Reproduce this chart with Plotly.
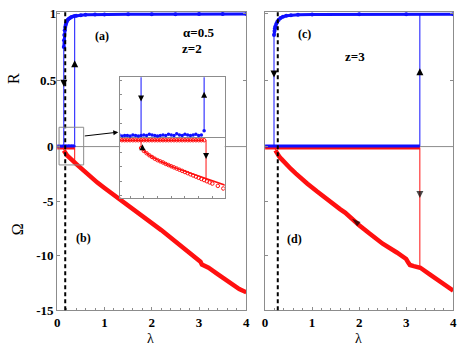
import plotly.graph_objects as go

W, H = 474, 353

# ---------------- data ----------------
# panel (a)/(b): z = 2
lamA_low = [0.00, 0.01, 0.02, 0.03, 0.04, 0.05, 0.06, 0.07, 0.08, 0.09, 0.10, 0.11, 0.12,
            0.13, 0.14, 0.15, 0.16, 0.17, 0.18, 0.19, 0.20, 0.21, 0.22, 0.23, 0.24, 0.25,
            0.26, 0.27, 0.28, 0.29, 0.30, 0.31, 0.32, 0.33, 0.34, 0.35, 0.36, 0.37]
RA_low = [0.004, 0.003, 0.005, 0.004, 0.003, 0.004, 0.005, 0.003, 0.004, 0.004, 0.003, 0.005,
          0.004, 0.003, 0.004, 0.005, 0.004, 0.006, 0.005, 0.004, 0.003, 0.004, 0.005, 0.004,
          0.006, 0.005, 0.004, 0.007, 0.005, 0.004, 0.006, 0.005, 0.004, 0.005, 0.006, 0.004,
          0.005, 0.012]
OmA_low = [-0.08, -0.08, -0.08, -0.08, -0.08, -0.08, -0.08, -0.08, -0.08, -0.08, -0.08, -0.08,
           -0.08, -0.08, -0.08, -0.08, -0.08, -0.08, -0.08, -0.08, -0.08, -0.08, -0.08, -0.08,
           -0.08, -0.08, -0.08, -0.08, -0.08, -0.08, -0.08, -0.08, -0.08, -0.08, -0.08, -0.08,
           -0.08, -0.08]
lamA_up = [0.14, 0.145, 0.15, 0.16, 0.17, 0.18, 0.19, 0.20, 0.22, 0.24, 0.27, 0.30, 0.35,
           0.40, 0.50, 0.60, 0.80, 1.00, 1.50, 2.00, 2.50, 3.00, 3.50, 4.00]
RA_up = [0.75, 0.80, 0.84, 0.875, 0.90, 0.915, 0.93, 0.94, 0.952, 0.96, 0.968, 0.974, 0.98,
         0.984, 0.988, 0.991, 0.993, 0.994, 0.995, 0.996, 0.996, 0.997, 0.997, 0.997]
lamA_om = [0.14, 0.15, 0.16, 0.17, 0.18, 0.19, 0.20, 0.21, 0.22, 0.23, 0.24, 0.25, 0.26, 0.27,
           0.28, 0.29, 0.30, 0.31, 0.32, 0.33, 0.34, 0.35, 0.36, 0.37, 0.38, 0.39, 0.40, 0.42,
           0.44, 0.46, 0.50, 0.60, 0.73, 0.85, 1.00, 1.20, 1.35, 1.45, 1.55, 1.65, 1.80, 2.00,
           2.20, 2.50, 2.80, 2.95, 3.00, 3.03, 3.06, 3.12, 3.20, 3.40, 3.60, 3.85, 4.00]
OmA = [-0.35, -0.45, -0.53, -0.60, -0.66, -0.72, -0.77, -0.81, -0.85, -0.90, -0.94, -0.98,
       -1.02, -1.06, -1.10, -1.14, -1.18, -1.22, -1.26, -1.30, -1.34, -1.38, -1.42, -1.46,
       -1.50, -1.54, -1.58, -1.66, -1.75, -1.84, -2.00, -2.40, -2.90, -3.30, -3.80, -4.45,
       -4.90, -5.25, -5.55, -5.80, -6.30, -7.00, -7.65, -8.70, -9.70, -10.25, -10.40, -10.55,
       -10.80, -10.90, -11.10, -11.70, -12.30, -13.05, -13.35]
lamA_c = 0.17          # dashed critical line
lamA_back = 0.14       # backward jump
lamA_fwd = 0.37        # forward jump

# panel (c)/(d): z = 3
lamC_low = [0.00, 0.50, 1.00, 1.50, 2.00, 2.50, 3.00, 3.29]
RC_low = [0.004, 0.004, 0.004, 0.004, 0.004, 0.004, 0.004, 0.004]
OmC_low = [-0.08, -0.08, -0.08, -0.08, -0.08, -0.08, -0.08, -0.08]
lamC_up = [0.19, 0.20, 0.21, 0.22, 0.24, 0.26, 0.29, 0.33, 0.38, 0.45, 0.55, 0.70, 1.00,
           2.00, 3.00, 4.00]
RC_up = [0.84, 0.87, 0.89, 0.905, 0.925, 0.94, 0.955, 0.967, 0.977, 0.984, 0.988, 0.991,
         0.993, 0.995, 0.996, 0.996]
lamC_om = [0.22, 0.25, 0.30, 0.35, 0.40, 0.47, 0.55, 0.65, 0.75, 0.90, 1.10, 1.30, 1.48,
           1.60, 1.70, 1.83, 2.00, 2.20, 2.50, 2.80, 2.95, 3.00, 3.04, 3.08, 3.16, 3.30,
           3.50, 3.75, 4.00]
OmC = [-0.35, -0.60, -0.90, -1.15, -1.40, -1.70, -2.05, -2.45, -2.85, -3.40, -4.10, -4.80,
       -5.40, -5.75, -6.05, -6.60, -7.20, -7.90, -8.90, -9.70, -10.10, -10.30, -10.60,
       -10.85, -10.95, -11.10, -11.70, -12.50, -13.20]
lamC_c = 0.27
lamC_back_R = 0.19
lamC_back_Om = 0.22
lamC_fwd = 3.29

# arrow markers (lambda, value)
arrA_R = dict(lam=[0.37, 0.14], val=[0.65, 0.45], sym=["arrow-up", "arrow-down"])
arrC_R = dict(lam=[0.19, 3.29], val=[0.52, 0.59], sym=["arrow-down", "arrow-up"])
arrC_Om = dict(lam=[3.29, 1.85], val=[-4.7, -6.62], sym=["arrow-down", "arrow"], ang=[0, -52],
               size=[7, 9])
arrI_R = dict(lam=[0.14, 0.37], val=[0.06, 0.076], sym=["arrow-down", "arrow-up"])
arrI_Om = dict(lam=[0.145, 0.377], val=[-0.22, -0.73], sym=["arrow-up", "arrow-down"])

x_ticks = [0, 1, 2, 3, 4]
x_ticktext = ["0", "1", "2", "3", "4"]
om_ticks = [-15, -10, -5, 0]
om_ticktext = ["-15", "-10", "-5", "0"]
r_ticks = [0.5, 1]
r_ticktext = ["0.5", "1"]

BLUE = "#1010ff"
RED = "#ff1010"
GRAY = "#8c8c8c"
SERIF = "Liberation Serif"

# ---------------- layout geometry ----------------
xL = [55 / W, 247 / W]
xR = [266 / W, 457 / W]
yM = [1 - 317 / H, 1 - 7 / H]
xI = [119 / W, 225 / W]
yI = [1 - 200 / H, 1 - 75 / H]

OM_RANGE = [-15, 15 * 140 / 170]
R_RANGE = [-170 / 138, 140 / 138]
XI_RANGE = [0.064, 0.445]
OMI_RANGE = [-62 / 30, 63 / 30]
RI_RANGE = [-62 / 630, 63 / 630]

fig = go.Figure()


def line(x, y, xa, ya, color, width, markers=False, msize=4):
    fig.add_trace(go.Scatter(
        x=x, y=y, xaxis=xa, yaxis=ya,
        mode="lines+markers" if markers else "lines",
        line=dict(color=color, width=width),
        marker=dict(color=color, size=msize),
        hoverinfo="skip", showlegend=False, cliponaxis=True))


def arrows(d, xa, ya, size=7):
    fig.add_trace(go.Scatter(
        x=d["lam"], y=d["val"], xaxis=xa, yaxis=ya, mode="markers",
        marker=dict(symbol=d["sym"], angle=d.get("ang", [0] * len(d["lam"])),
                    color="black", size=d.get("size", size), line=dict(width=0)),
        hoverinfo="skip", showlegend=False))


def bold(lst):
    return ["<b>" + s + "</b>" for s in lst]


# ---- panel (a)/(b): Omega on y, R on y2 ----
line(lamA_om, OmA, "x", "y", RED, 4.5)
line([lamA_back, lamA_back], [OmA[0], OmA_low[0]], "x", "y", RED, 1)
line([lamA_fwd, lamA_fwd], [OmA_low[-1], OmA[lamA_om.index(lamA_fwd)]], "x", "y", RED, 1)
line(lamA_low, OmA_low, "x", "y", RED, 4)

line([lamA_back, lamA_back], [RA_up[0], RA_low[lamA_low.index(lamA_back)]], "x", "y2", BLUE, 1)
line([lamA_fwd, lamA_fwd], [RA_low[-1], RA_up[-1]], "x", "y2", BLUE, 1)
line(lamA_up, RA_up, "x", "y2", BLUE, 3, markers=True, msize=4)
line(lamA_low, RA_low, "x", "y2", BLUE, 3)
arrows(arrA_R, "x", "y2")

# ---- panel (c)/(d): Omega on y3, R on y4 ----
line(lamC_om, OmC, "x2", "y3", RED, 4.5)
line([lamC_back_Om, lamC_back_Om], [OmC[0], OmC_low[0]], "x2", "y3", RED, 1)
line([lamC_fwd, lamC_fwd], [OmC_low[-1], OmC[lamC_om.index(3.30)]], "x2", "y3", RED, 1)
line(lamC_low, OmC_low, "x2", "y3", RED, 4)
arrows(arrC_Om, "x2", "y3")

line([lamC_back_R, lamC_back_R], [RC_up[0], RC_low[0]], "x2", "y4", BLUE, 1)
line([lamC_fwd, lamC_fwd], [RC_low[-1], RC_up[-1]], "x2", "y4", BLUE, 1)
line(lamC_up, RC_up, "x2", "y4", BLUE, 3, markers=True, msize=4)
line(lamC_low, RC_low, "x2", "y4", BLUE, 3)
arrows(arrC_R, "x2", "y4")

# ---- inset: Omega on y5, R on y6 ----
fig.add_trace(go.Scatter(x=lamA_om, y=OmA, xaxis="x3", yaxis="y5", mode="lines+markers",
                         line=dict(color=RED, width=1.5),
                         marker=dict(color=RED, size=3.5, symbol="circle-open", line=dict(width=1)),
                         hoverinfo="skip", showlegend=False))
line([lamA_back, lamA_back], [OmA[0], OmA_low[0]], "x3", "y5", RED, 1)
line([lamA_fwd + 0.007, lamA_fwd + 0.007], [OmA_low[-1], OmA[lamA_om.index(lamA_fwd)]], "x3", "y5", RED, 1)
fig.add_trace(go.Scatter(x=lamA_low, y=OmA_low, xaxis="x3", yaxis="y5", mode="lines+markers",
                         line=dict(color=RED, width=1.5),
                         marker=dict(color=RED, size=3.5, symbol="circle-open", line=dict(width=1)),
                         hoverinfo="skip", showlegend=False))
arrows(arrI_Om, "x3", "y5", size=6)

line([lamA_back, lamA_back], [RA_up[0], RA_low[lamA_low.index(lamA_back)]], "x3", "y6", BLUE, 1)
line([lamA_fwd, lamA_fwd], [RA_low[-1], RA_up[-1]], "x3", "y6", BLUE, 1)
fig.add_trace(go.Scatter(x=lamA_low, y=RA_low, xaxis="x3", yaxis="y6", mode="markers",
                         marker=dict(color=BLUE, size=3.5),
                         hoverinfo="skip", showlegend=False))
arrows(arrI_R, "x3", "y6", size=6)

# ---------------- axes ----------------
tickfont = dict(family=SERIF, size=13, color="black")
base = dict(showline=True, linecolor=GRAY, linewidth=1, mirror=True, ticks="inside",
            tickcolor=GRAY, ticklen=3, showgrid=False, zeroline=False, tickfont=tickfont)

xmain = dict(base, range=[0, 4], tickmode="array", tickvals=x_ticks, ticktext=bold(x_ticktext),
             minor=dict(dtick=0.2, tick0=0, ticks="inside", ticklen=2, tickcolor=GRAY))
om_ax = dict(base, range=OM_RANGE, tickmode="array", tickvals=om_ticks,
             ticktext=bold(om_ticktext))
r_ax = dict(base, range=R_RANGE, tickmode="array", tickvals=r_ticks, ticktext=bold(r_ticktext),
            showline=False, mirror="ticks", side="left")

fig.update_layout(
    xaxis=dict(xmain, domain=xL, anchor="y"),
    yaxis=dict(om_ax, domain=yM, anchor="x"),
    yaxis2=dict(r_ax, overlaying="y", anchor="x"),
    xaxis2=dict(xmain, domain=xR, anchor="y3"),
    yaxis3=dict(om_ax, domain=yM, anchor="x2", showticklabels=False),
    yaxis4=dict(r_ax, overlaying="y3", anchor="x2", showticklabels=False),
    xaxis3=dict(base, domain=xI, anchor="y5", range=XI_RANGE, dtick=0.05,
                showticklabels=False, ticklen=2),
    yaxis5=dict(base, domain=yI, anchor="x3", range=OMI_RANGE, dtick=0.5,
                showticklabels=False, ticklen=2, zeroline=True, zerolinecolor=GRAY,
                zerolinewidth=1),
    yaxis6=dict(base, overlaying="y5", anchor="x3", range=RI_RANGE, showticklabels=False,
                showline=False, ticks="", side="left"),
)

# ---------------- shapes ----------------
shapes = [
    dict(type="line", xref="x", yref="y", x0=0, x1=4, y0=0, y1=0,
         line=dict(color=GRAY, width=1), layer="below"),
    dict(type="line", xref="x2", yref="y3", x0=0, x1=4, y0=0, y1=0,
         line=dict(color=GRAY, width=1), layer="below"),
    dict(type="rect", xref="paper", yref="paper", x0=xI[0], x1=xI[1], y0=yI[0], y1=yI[1],
         fillcolor="white", line=dict(width=0), layer="below"),
    dict(type="line", xref="x", yref="y domain", x0=lamA_c, x1=lamA_c, y0=0, y1=1,
         line=dict(color="black", width=2, dash="4px,3px")),
    dict(type="line", xref="x2", yref="y3 domain", x0=lamC_c, x1=lamC_c, y0=0, y1=1,
         line=dict(color="black", width=2, dash="4px,3px")),
    dict(type="rect", xref="x", yref="y", x0=0.04, x1=0.56, y0=-1.68, y1=1.77,
         line=dict(color=GRAY, width=1)),
]

# ---------------- annotations ----------------
def txt(text, xp, yp, size=12, isbold=True, angle=0):
    t = "<b>" + text + "</b>" if isbold else text
    return dict(text=t, x=xp / W, y=1 - yp / H, xref="paper", yref="paper",
                showarrow=False, textangle=angle, xanchor="center", yanchor="middle",
                font=dict(family=SERIF, size=size, color="black"))

annotations = [
    txt("(a)", 100, 32, 12),
    txt("α=0.5", 198, 29, 13),
    txt("z=2", 192, 45, 13),
    txt("(b)", 82, 242, 12),
    txt("(c)", 306, 30, 12),
    txt("z=3", 357, 53, 13),
    txt("(d)", 296, 243, 12),
    txt("R", 10, 76, 16, isbold=False, angle=-90),
    txt("Ω", 15, 233, 16, isbold=False, angle=-90),
    txt("λ", 150, 346, 14, isbold=False),
    txt("λ", 361, 346, 14, isbold=False),
    dict(x=117 / W, y=1 - 132 / H, xref="paper", yref="paper", ax=-35, ay=4,
         axref="pixel", ayref="pixel", showarrow=True, arrowhead=2, arrowsize=1,
         arrowwidth=1, arrowcolor="black", text=""),
]

fig.update_layout(
    width=W, height=H, margin=dict(l=0, r=0, t=0, b=0),
    paper_bgcolor="white", plot_bgcolor="white", showlegend=False,
    shapes=shapes, annotations=annotations,
)

fig.write_html("out.html")
